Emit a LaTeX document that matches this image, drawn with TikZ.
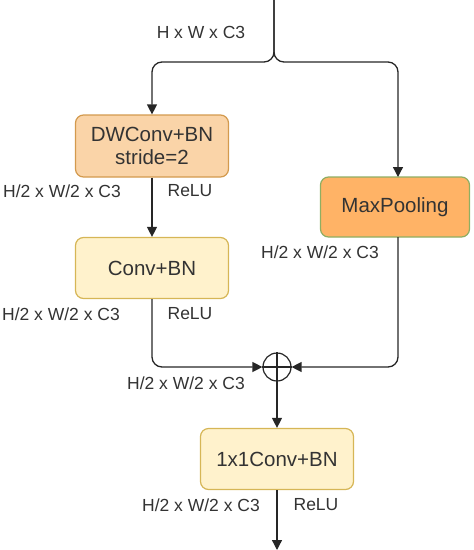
\documentclass[tikz,border=0pt]{standalone}
\usepackage{fontspec}
\setmainfont{Liberation Sans}
\usetikzlibrary{arrows.meta}
\definecolor{dwfill}{HTML}{FAD4A8}
\definecolor{dwdraw}{HTML}{D39A4E}
\definecolor{mpfill}{HTML}{FFB366}
\definecolor{mpdraw}{HTML}{8FAE62}
\definecolor{cvfill}{HTML}{FFF2CC}
\definecolor{cvdraw}{HTML}{D6B656}
\definecolor{txt}{HTML}{333333}
\tikzset{
  blk/.style={draw, line width=1.2pt, rounded corners=8pt, minimum width=153pt, inner sep=0pt, font=\fontsize{20.5}{23}\selectfont, text=txt, align=center},
  lbl/.style={font=\fontsize{17.5}{20}\selectfont, text=txt, inner sep=0pt},
  conn/.style={draw=black!85, line width=1.3pt, -{Triangle[width=10pt,length=10pt]}},
}
\begin{document}
\begin{tikzpicture}[x=1pt,y=-1pt]
\useasboundingbox (0,0) rectangle (474,550);
\node[blk, fill=dwfill, draw=dwdraw, minimum height=62pt] (dw) at (152,146) {DWConv+BN\\stride=2};
\node[blk, fill=mpfill, draw=mpdraw, minimum width=149pt, minimum height=60pt] (mp) at (395,207) {MaxPooling};
\node[blk, fill=cvfill, draw=cvdraw, minimum height=61pt] (cv) at (152,268) {Conv+BN};
\node[draw=black!85, line width=1.2pt, circle, minimum size=28pt, inner sep=0pt] (add) at (277,367) {};
\draw[black!85, line width=1.1pt] (add.north) -- (add.south) (add.west) -- (add.east);
\node[blk, fill=cvfill, draw=cvdraw, minimum height=61pt] (oc) at (277,459) {1x1Conv+BN};
\coordinate (in) at (274,0);
\coordinate (out) at (277,550);
\draw[conn, rounded corners=10pt] (in) -- (274,62) -- (152,62) -- (dw.north);
\draw[conn, rounded corners=10pt] (in) -- (274,62) -- (398,62) -- (398,177);
\draw[conn] (dw) -- (cv);
\draw[conn, rounded corners=10pt] (cv.south) -- (152,367) -- (add.west);
\draw[conn, rounded corners=10pt] (398,237) -- (398,367) -- (add.east);
\draw[conn] (add) -- (oc);
\draw[conn] (oc) -- (out);
\node[lbl] (l1) at (201,32) {H x W x C3};
\node[lbl] (l2) at (62,191) {H/2 x W/2 x C3};
\node[lbl] (l3) at (190,191) {ReLU};
\node[lbl] (l4) at (320,252) {H/2 x W/2 x C3};
\node[lbl] (l5) at (61,314) {H/2 x W/2 x C3};
\node[lbl] (l6) at (190,314) {ReLU};
\node[lbl] (l7) at (186,383) {H/2 x W/2 x C3};
\node[lbl] (l8) at (201,505) {H/2 x W/2 x C3};
\node[lbl] (l9) at (316,505) {ReLU};
\end{tikzpicture}
\end{document}
